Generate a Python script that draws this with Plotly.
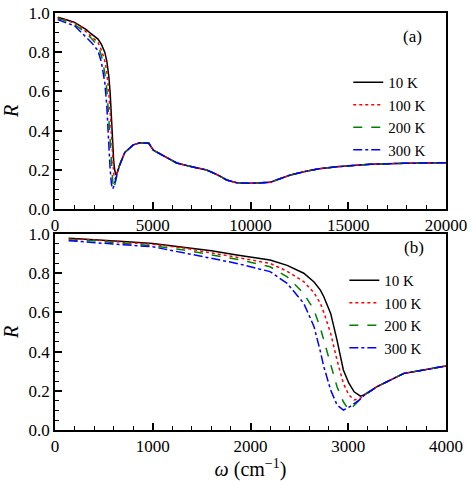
import plotly.graph_objects as go

# low-frequency reflectivity (cm^-1)
w_low = [140, 400, 700, 1000, 1300, 1600, 1860, 2200, 2375, 2545, 2650, 2715, 2750,
         2820, 2885, 2950, 3005, 3060, 3125, 3160, 3295, 3500, 3570, 3770, 4000]
r_10k = [0.978, 0.972, 0.962, 0.952, 0.935, 0.915, 0.893, 0.867, 0.840, 0.800, 0.755, 0.714, 0.680,
         0.595, 0.459, 0.306, 0.240, 0.195, 0.173, 0.179, 0.221, 0.272, 0.289, 0.306, 0.327]
r_100k = [0.975, 0.970, 0.958, 0.948, 0.930, 0.905, 0.881, 0.850, 0.810, 0.757, 0.700, 0.646, 0.600,
          0.493, 0.357, 0.238, 0.180, 0.153, 0.162, 0.178, 0.221, 0.272, 0.289, 0.306, 0.327]
r_200k = [0.970, 0.965, 0.952, 0.940, 0.920, 0.895, 0.871, 0.833, 0.782, 0.697, 0.612, 0.520, 0.459,
          0.340, 0.221, 0.144, 0.102, 0.125, 0.155, 0.176, 0.221, 0.272, 0.289, 0.306, 0.327]
r_300k = [0.966, 0.958, 0.945, 0.935, 0.905, 0.875, 0.850, 0.808, 0.748, 0.646, 0.527, 0.400, 0.323,
          0.204, 0.128, 0.102, 0.115, 0.135, 0.157, 0.176, 0.221, 0.272, 0.289, 0.306, 0.327]

# high-frequency part, same for all temperatures (panel a)
w_high = [4350, 4800, 5030, 5500, 6220, 7000, 7760, 8300, 8780, 9290, 10000, 11000,
          11525, 12000, 12720, 13500, 14420, 16130, 17830, 20000]
r_high = [0.338, 0.335, 0.300, 0.275, 0.235, 0.215, 0.199, 0.175, 0.148, 0.134, 0.131, 0.136,
          0.156, 0.172, 0.190, 0.205, 0.216, 0.228, 0.233, 0.236]

temps = ["10 K", "100 K", "200 K", "300 K"]
spectra = [r_10k, r_100k, r_200k, r_300k]
colors = ["black", "red", "green", "blue"]
dashes = ["solid", "dot", "dash", "dashdot"]

FONT = "Liberation Serif, DejaVu Serif, serif"

fig = go.Figure()
for name, r, c, d in zip(temps, spectra, colors, dashes):
    # panel (a): full range
    fig.add_trace(go.Scatter(x=w_low + w_high, y=r + r_high, mode="lines", name=name,
                             line=dict(color=c, dash=d, width=1.5),
                             xaxis="x", yaxis="y", legend="legend"))
    # panel (b): low frequencies
    fig.add_trace(go.Scatter(x=w_low, y=r, mode="lines", name=name,
                             line=dict(color=c, dash=d, width=1.5),
                             xaxis="x2", yaxis="y2", legend="legend2"))

axis_style = dict(showline=True, linecolor="black", linewidth=1.5, mirror=True,
                  ticks="inside", ticklen=7, tickwidth=1.5, tickcolor="black",
                  showgrid=False, zeroline=False, automargin=False,
                  tickfont=dict(family=FONT, size=17, color="black"))
minor_style = dict(ticks="inside", ticklen=4, tickwidth=1.2, tickcolor="black", showgrid=False)
title_font = dict(family=FONT, size=20, color="black")

fig.update_layout(
    width=474, height=481,
    margin=dict(l=55, r=28, t=13, b=51),
    paper_bgcolor="white", plot_bgcolor="white",
    font=dict(family=FONT, size=17, color="black"),
    xaxis=dict(range=[0, 20000], dtick=5000, tickformat="d", anchor="y",
               minor=dict(dtick=1000, **minor_style), **axis_style),
    xaxis2=dict(range=[0, 4000], dtick=1000, tickformat="d", anchor="y2",
                minor=dict(dtick=200, **minor_style),
                title=dict(text="<i>ω</i> (cm<sup>−1</sup>)", standoff=0, font=title_font),
                **axis_style),
    yaxis=dict(range=[0, 1], dtick=0.2, tickformat=".1f", domain=[0.53, 1], anchor="x",
               minor=dict(dtick=0.05, **minor_style),
               title=dict(text="<i>R</i>", standoff=6, font=title_font),
               **axis_style),
    yaxis2=dict(range=[0, 1], dtick=0.2, tickformat=".1f", domain=[0, 0.47], anchor="x2",
                minor=dict(dtick=0.05, **minor_style),
                title=dict(text="<i>R</i>", standoff=6, font=title_font),
                **axis_style),
    legend=dict(x=0.75, y=0.873, xanchor="left", yanchor="top", bgcolor="rgba(0,0,0,0)",
                font=dict(family=FONT, size=15), tracegroupgap=0, itemwidth=30),
    legend2=dict(x=0.74, y=0.398, xanchor="left", yanchor="top", bgcolor="rgba(0,0,0,0)",
                 font=dict(family=FONT, size=15), tracegroupgap=0, itemwidth=30),
    annotations=[
        dict(text="(a)", x=0.945, y=0.972, xref="paper", yref="paper", showarrow=False,
             font=dict(family=FONT, size=17)),
        dict(text="(b)", x=0.948, y=0.437, xref="paper", yref="paper", showarrow=False,
             font=dict(family=FONT, size=17)),
    ],
)

# drop the browser's default page margin so the figure fills the window
fig.write_html("out.html", config={"displayModeBar": False},
               post_script="document.body.style.margin = '0';")
